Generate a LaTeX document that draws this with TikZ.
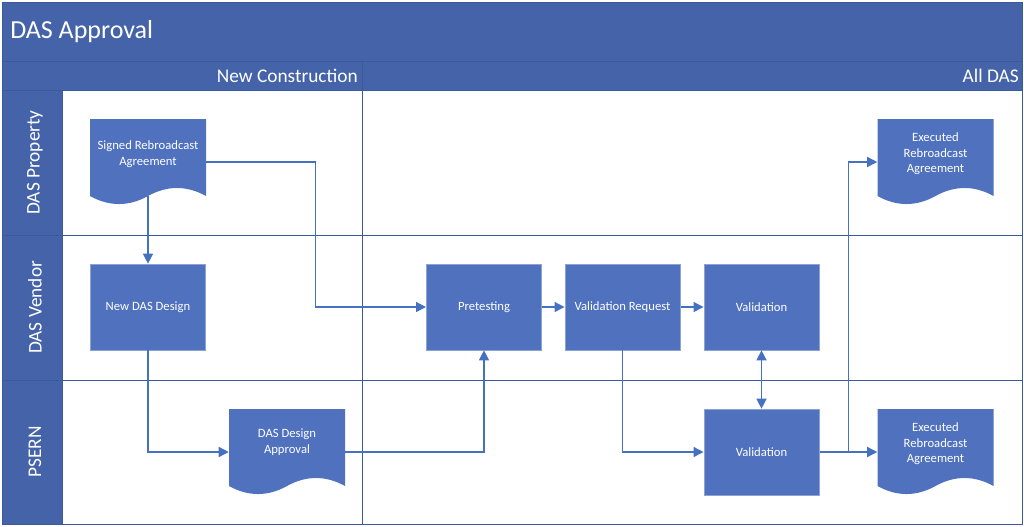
\documentclass[tikz,border=0pt]{standalone}
\usepackage{fontspec}
\setmainfont{Carlito}
\usetikzlibrary{arrows.meta,calc}
\definecolor{band}{HTML}{4563A8}
\definecolor{boxfill}{HTML}{4F71BE}
\definecolor{boxline}{HTML}{8CA3D6}
\definecolor{linecol}{HTML}{4670C0}
\definecolor{sepcol}{HTML}{3B5A9C}
\begin{document}
\begin{tikzpicture}[x=0.75pt,y=-0.75pt,
  proc/.style={rectangle, fill=boxfill, draw=boxline, line width=0.5pt,
    minimum width=86.5pt, minimum height=64.5pt, inner sep=2pt, text=white,
    font=\fontsize{9.5}{11.6}\selectfont, align=center},
  docshape/.style={rectangle, minimum width=87pt, minimum height=64.5pt, inner sep=0pt,
    path picture={
      \fill[boxfill] (path picture bounding box.north west) -- (path picture bounding box.north east)
        -- ($(path picture bounding box.south east)+(0,-9)$)
        .. controls ($(path picture bounding box.south east)+(-19.3,-19.7)$) and ($(path picture bounding box.south east)+(-38.7,-19.7)$)
        .. ($(path picture bounding box.south)+(0,-9)$)
        .. controls ($(path picture bounding box.south west)+(38.7,1.7)$) and ($(path picture bounding box.south west)+(19.3,1.7)$)
        .. ($(path picture bounding box.south west)+(0,-9)$) -- cycle;
    }},
  doctext/.style={text=white, font=\fontsize{9.5}{11.6}\selectfont, align=center, inner sep=0pt},
  hdr/.style={text=white, font=\fontsize{14.5}{16}\selectfont, inner sep=0pt},
  sepline/.style={draw=sepcol, line width=0.7pt},
  arr/.style={draw=linecol, line width=1pt, -{Triangle[length=7.5pt,width=7.5pt]}},
  dblarr/.style={draw=linecol, line width=1pt, {Triangle[length=7.5pt,width=7.5pt]}-{Triangle[length=7.5pt,width=7.5pt]}}
]
\useasboundingbox (0,0) rectangle (1024,526);
\fill[white] (0,0) rectangle (1024,526);
% bands
\fill[band] (2,2) rectangle (1022,90);
\fill[band] (2,90) rectangle (62,524);
\draw[sepline] (2,61) -- (1022,61);
\draw[sepline] (2,90) -- (1022,90);
\draw[sepline] (62,90) -- (62,524);
\draw[sepline] (362,61) -- (362,524);
\draw[sepline] (2,235) -- (1022,235);
\draw[sepline] (2,380) -- (1022,380);
\draw[sepline] (2,2) rectangle (1022,524);
% titles
\node[anchor=west, text=white, font=\fontsize{19.5}{21}\selectfont, inner sep=0pt] (title) at (10,32) {DAS Approval};
\node[hdr, anchor=east] (hnc) at (358,76) {New Construction};
\node[hdr, anchor=east] (hall) at (1019,76) {All DAS};
\node[hdr, rotate=90] (lprop) at (35,162.5) {DAS Property};
\node[hdr, rotate=90] (lvend) at (35,307.5) {DAS Vendor};
\node[hdr, rotate=90] (lpsern) at (35,452) {PSERN};
% documents
\node[docshape] (sra) at (148,162) {};
\node[doctext] (sraT) at ($(sra.center)+(0,-8)$) {Signed Rebroadcast\\Agreement};
\node[docshape] (dda) at (287,452) {};
\node[doctext] (ddaT) at ($(dda.center)+(0,-10)$) {DAS Design\\Approval};
\node[docshape] (ex1) at (935.5,162) {};
\node[doctext] (ex1T) at ($(ex1.center)+(0,-8)$) {Executed\\Rebroadcast\\Agreement};
\node[docshape] (ex2) at (935.5,452) {};
\node[doctext] (ex2T) at ($(ex2.center)+(0,-8)$) {Executed\\Rebroadcast\\Agreement};
% processes
\node[proc] (nds) at (148,307) {New DAS Design};
\node[proc] (pre) at (484,307) {Pretesting};
\node[proc] (vr) at (622.5,307) {Validation Request};
\node[proc] (val1) at (761.5,307) {Validation};
\node[proc] (val2) at (761.5,452) {Validation};
% connectors
\draw[arr] ($(sra.south)+(0,-9)$) -- (nds.north);
\draw[arr] (sra.east) -- ++(109,0) |- (pre.west);
\draw[arr] (nds.south) |- (dda.west);
\draw[arr] (dda.east) -| (pre.south);
\draw[arr] (pre.east) -- (vr.west);
\draw[arr] (vr.east) -- (val1.west);
\draw[arr] (vr.south) |- (val2.west);
\draw[dblarr] (val1.south) -- (val2.north);
\draw[arr] (val2.east) -- (ex2.west);
\coordinate (br) at ($(val2.east)!0.5!(ex2.west)$);
\draw[arr] (br) |- (ex1.west);
\end{tikzpicture}
\end{document}
